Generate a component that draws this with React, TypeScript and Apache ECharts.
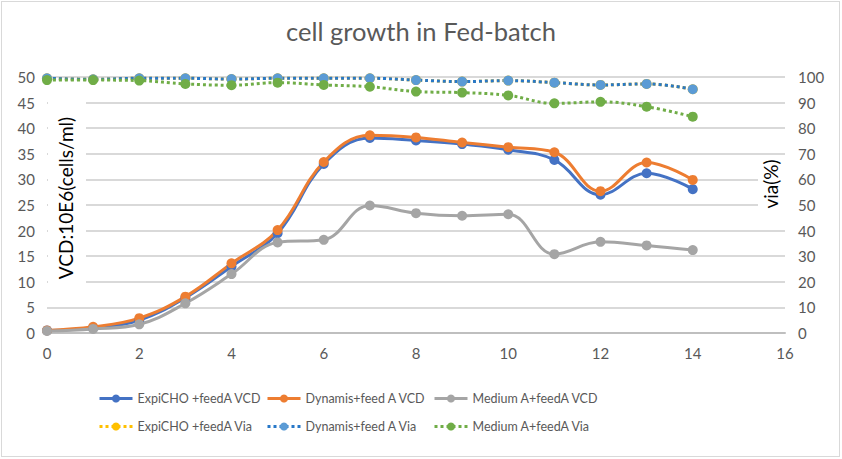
import React, { useEffect, useRef } from "react";
import * as echarts from "echarts";

const titleText = "cell growth in Fed-batch";
const days = [0, 1, 2, 3, 4, 5, 6, 7, 8, 9, 10, 11, 12, 13, 14];
const expiVCD = [0.5, 1.0, 2.5, 6.9, 13.0, 19.5, 33.0, 38.1, 37.6, 36.9, 35.8, 33.8, 27.0, 31.2, 28.1];
const dynamisVCD = [0.5, 1.2, 2.9, 7.1, 13.6, 20.1, 33.4, 38.6, 38.2, 37.2, 36.3, 35.3, 27.7, 33.3, 29.9];
const mediumVCD = [0.4, 0.8, 1.7, 5.8, 11.5, 17.7, 18.2, 24.9, 23.4, 22.9, 23.2, 15.4, 17.8, 17.1, 16.2];
const expiVia = [99.5, 99.1, 99.5, 99.5, 99.2, 99.5, 99.5, 99.5, 98.8, 98.2, 98.6, 97.8, 96.9, 97.3, 95.2];
const dynamisVia = [99.5, 99.1, 99.5, 99.5, 99.2, 99.5, 99.5, 99.5, 98.8, 98.2, 98.6, 97.8, 96.9, 97.3, 95.2];
const mediumVia = [98.8, 98.8, 98.6, 97.3, 96.8, 97.8, 96.9, 96.2, 94.3, 93.9, 92.8, 89.7, 90.3, 88.4, 84.5];
const seriesNames = [
  "ExpiCHO +feedA VCD",
  "Dynamis+feed A VCD",
  "Medium A+feedA VCD",
  "ExpiCHO +feedA Via",
  "Dynamis+feed A Via",
  "Medium A+feedA Via",
];
const leftAxisName = "VCD:10E6(cells/ml)";
const rightAxisName = "via(%)";

const FONT = "Lato";
const GREY = "#595959";

export default function App() {
  const ref = useRef<HTMLDivElement>(null);
  useEffect(() => {
    if (!ref.current) return;
    const chart = echarts.init(ref.current, null, { renderer: "svg" });
    const pair = (arr: number[]) => days.map((d, i) => [d, arr[i]]);
    const mk = (name: string, data: number[], color: string, axis: number, dotted: boolean, lineColor?: string) => ({
      name,
      type: "line",
      yAxisIndex: axis,
      data: pair(data),
      smooth: 0.4,
      symbol: "circle",
      symbolSize: 10,
      itemStyle: { color },
      lineStyle: { color: lineColor || color, width: 3, type: dotted ? "dotted" : "solid" },
      emphasis: { disabled: true },
      z: 2,
    });
    const legendPos = [
      [98, 392],
      [266, 392],
      [433, 392],
      [98, 420],
      [266, 420],
      [433, 420],
    ];
    chart.setOption({
      animation: false,
      title: {
        text: titleText,
        left: "center",
        top: 13,
        textStyle: { fontFamily: FONT, fontSize: 25.5, fontWeight: "normal", color: GREY },
      },
      grid: { left: 47, right: 57, top: 77, bottom: 126, containLabel: false, outerBoundsMode: "none" },
      legend: seriesNames.map((n, i) => ({
        data: [n],
        left: legendPos[i][0],
        top: legendPos[i][1],
        itemWidth: 33,
        itemHeight: 10,
        itemGap: 4,
        padding: 0,
        lineStyle: { width: 3 },
        textStyle: { fontFamily: FONT, fontSize: 12.5, color: GREY },
        selectedMode: false,
      })),
      xAxis: {
        type: "value",
        min: 0,
        max: 16,
        interval: 2,
        axisLine: { show: true, lineStyle: { color: "#bfbfbf", width: 2 } },
        axisTick: { show: false },
        splitLine: { show: false },
        axisLabel: { margin: 12, fontFamily: FONT, fontSize: 15, color: GREY },
      },
      yAxis: [
        {
          type: "value",
          min: 0,
          max: 50,
          interval: 5,
          axisLine: { show: false },
          axisTick: { show: false },
          splitLine: { show: true, lineStyle: { color: "#d9d9d9", width: 2 } },
          axisLabel: { margin: 12, fontFamily: FONT, fontSize: 15, color: GREY },
        },
        {
          type: "value",
          min: 0,
          max: 100,
          interval: 10,
          position: "right",
          axisLine: { show: false },
          axisTick: { show: false },
          splitLine: { show: false },
          axisLabel: { margin: 13, fontFamily: FONT, fontSize: 15, color: GREY },
        },
      ],
      graphic: [
        { type: "rect", z: 1, shape: { x: 48, y: 92, width: 38, height: 206 }, style: { fill: "#ffffff" } },
        { type: "rect", z: 1, shape: { x: 758, y: 156, width: 28, height: 58 }, style: { fill: "#ffffff" } },
        {
          type: "text",
          z: 1,
          x: 65,
          y: 198,
          rotation: Math.PI / 2,
          style: {
            text: leftAxisName,
            fontFamily: FONT,
            fontSize: 19,
            fill: "#000000",
            align: "center",
            verticalAlign: "middle",
          },
        },
        {
          type: "text",
          z: 1,
          x: 770,
          y: 184,
          rotation: Math.PI / 2,
          style: {
            text: rightAxisName,
            fontFamily: FONT,
            fontSize: 19,
            fill: "#000000",
            align: "center",
            verticalAlign: "middle",
          },
        },
      ],
      series: [
        mk(seriesNames[0], expiVCD, "#4472C4", 0, false),
        mk(seriesNames[1], dynamisVCD, "#ED7D31", 0, false),
        mk(seriesNames[2], mediumVCD, "#A5A5A5", 0, false),
        mk(seriesNames[3], expiVia, "#FFC000", 1, true),
        mk(seriesNames[4], dynamisVia, "#5B9BD5", 1, true, "#2878C8"),
        mk(seriesNames[5], mediumVia, "#70AD47", 1, true),
      ],
    });
    return () => chart.dispose();
  }, []);
  return (
    <div style={{ position: "absolute", left: 0, top: 0, width: 842, height: 459, background: "#fff" }}>
      <div ref={ref} style={{ position: "absolute", left: 0, top: 0, width: 842, height: 459 }} />
      <div
        style={{
          position: "absolute",
          left: 1,
          top: 1,
          width: 839,
          height: 456,
          border: "1px solid #d9d9d9",
          boxSizing: "border-box",
          pointerEvents: "none",
        }}
      />
    </div>
  );
}
